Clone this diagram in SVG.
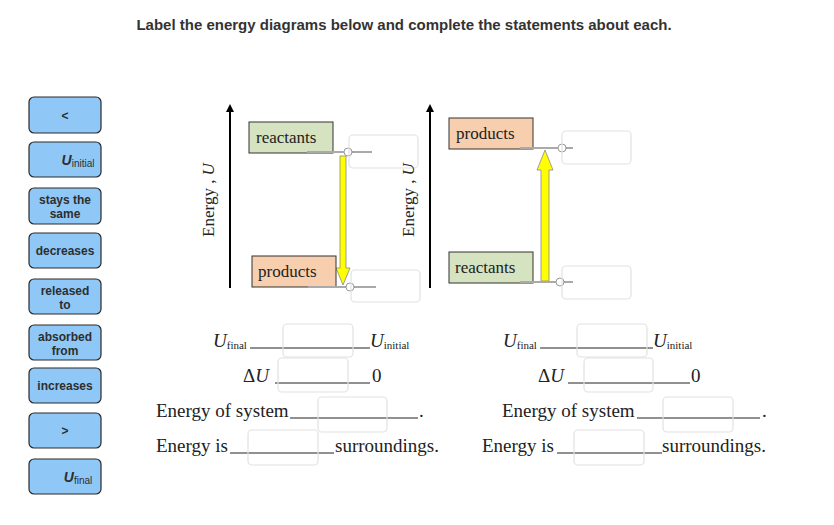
<svg xmlns="http://www.w3.org/2000/svg" width="834" height="525" viewBox="0 0 834 525">
<style>
.btn rect{fill:#8fc8f7;stroke:#2a2a2a;stroke-width:1.2}
.btn text{font-family:"Liberation Sans",Arial,sans-serif;font-weight:bold;font-size:12px;fill:#2e2e2e;text-anchor:middle}
.drop{fill:none;stroke:#e2e2e2;stroke-width:1.2}
.s{font-family:"Liberation Serif","Times New Roman",serif;font-size:19px;fill:#222}
.lbl{font-family:"Liberation Serif","Times New Roman",serif;font-size:17px;fill:#222}
.ul{stroke:#222;stroke-width:1}
.gl{stroke:#aaa;stroke-width:2}
.dl{stroke:#555;stroke-width:1}
.knob{fill:#fff;stroke:#999;stroke-width:1}
</style>
<defs>
<marker id="ah" markerUnits="userSpaceOnUse" markerWidth="8" markerHeight="10" refX="0" refY="5" orient="auto"><path d="M0,1 L8,5 L0,9 z" fill="#000"/></marker>
</defs>
<rect width="834" height="525" fill="#fff"/>
<text x="404" y="30" font-family="Liberation Sans,Arial,sans-serif" font-weight="bold" font-size="15" fill="#333" text-anchor="middle">Label the energy diagrams below and complete the statements about each.</text>

<g id="b1" class="btn"><rect x="29" y="97" width="72" height="36" rx="5"/><text x="65" y="120">&lt;</text></g>
<g id="b2" class="btn"><rect x="29" y="142" width="72" height="35" rx="5"/><text x="78" y="165"><tspan font-style="italic" font-size="14">U</tspan><tspan font-size="10" font-weight="normal" dy="2">initial</tspan></text></g>
<g id="b3" class="btn"><rect x="29" y="188" width="72" height="36" rx="5"/><text x="65" y="204">stays the</text><text x="65" y="218">same</text></g>
<g id="b4" class="btn"><rect x="29" y="233" width="72" height="35" rx="5"/><text x="65" y="255">decreases</text></g>
<g id="b5" class="btn"><rect x="29" y="279" width="72" height="35" rx="5"/><text x="65" y="295">released</text><text x="65" y="309">to</text></g>
<g id="b6" class="btn"><rect x="29" y="325" width="72" height="35" rx="5"/><text x="65" y="341">absorbed</text><text x="65" y="355">from</text></g>
<g id="b7" class="btn"><rect x="29" y="368" width="72" height="35" rx="5"/><text x="65" y="390">increases</text></g>
<g id="b8" class="btn"><rect x="29" y="413" width="72" height="35" rx="5"/><text x="65" y="435">&gt;</text></g>
<g id="b9" class="btn"><rect x="29" y="459" width="72" height="35" rx="5"/><text x="78" y="482"><tspan font-style="italic" font-size="14">U</tspan><tspan font-size="10" font-weight="normal" dy="2">final</tspan></text></g>

<g id="connectors">
<line x1="230" y1="288" x2="230" y2="112" stroke="#000" stroke-width="2" marker-end="url(#ah)"/>
<line x1="430" y1="288" x2="430" y2="112" stroke="#000" stroke-width="2" marker-end="url(#ah)"/>
<path d="M340,156 L346,156 L346,268 L350,268 L343,285 L336,268 L340,268 Z" fill="#ffff00" stroke="#888" stroke-width="0.8"/>
<path d="M541,281 L549,281 L549,170 L553,170 L545,150 L537,170 L541,170 Z" fill="#ffff00" stroke="#888" stroke-width="0.8"/>
</g>

<g id="left-diagram">
<text class="lbl" transform="translate(214,200) rotate(-90)" text-anchor="middle">Energy , <tspan font-style="italic">U</tspan></text>
<rect x="249" y="122" width="84" height="31" fill="#d5e3c0" stroke="#333"/>
<text class="lbl" x="256" y="143">reactants</text>
<line class="gl" x1="307" y1="152" x2="344" y2="152"/><circle class="knob" cx="348" cy="152" r="4"/><line class="dl" x1="352" y1="152" x2="372" y2="152"/>
<rect class="drop" x="349" y="135" width="69" height="33" rx="4"/>
<rect x="252" y="256" width="84" height="31" fill="#f8cfae" stroke="#333"/>
<text class="lbl" x="258" y="277">products</text>
<line class="gl" x1="308" y1="287" x2="346" y2="287"/><circle class="knob" cx="350" cy="287" r="4"/><line class="dl" x1="354" y1="287" x2="376" y2="287"/>
<rect class="drop" x="351" y="270" width="69" height="32" rx="4"/>
</g>

<g id="right-diagram">
<text class="lbl" transform="translate(414,200) rotate(-90)" text-anchor="middle">Energy , <tspan font-style="italic">U</tspan></text>
<rect x="449" y="118" width="84" height="31" fill="#f8cfae" stroke="#333"/>
<text class="lbl" x="456" y="139">products</text>
<line class="gl" x1="520" y1="148" x2="558" y2="148"/><circle class="knob" cx="562" cy="148" r="4"/><line class="dl" x1="566" y1="148" x2="573" y2="148"/>
<rect class="drop" x="562" y="131" width="69" height="33" rx="4"/>
<rect x="449" y="252" width="84" height="31" fill="#d5e3c0" stroke="#333"/>
<text class="lbl" x="455" y="273">reactants</text>
<line class="gl" x1="520" y1="282" x2="556" y2="282"/><circle class="knob" cx="560" cy="282" r="4"/><line class="dl" x1="564" y1="282" x2="573" y2="282"/>
<rect class="drop" x="562" y="266" width="69" height="33" rx="4"/>
</g>

<g id="left-statements">
<text class="s" x="213" y="347"><tspan font-style="italic">U</tspan><tspan font-size="11" dy="2">final</tspan></text>
<line class="ul" x1="250" y1="348" x2="370" y2="348"/>
<text class="s" x="370" y="347"><tspan font-style="italic">U</tspan><tspan font-size="11" dy="2">initial</tspan></text>
<rect class="drop" x="283" y="324" width="70" height="33" rx="4"/>
<text class="s" x="243" y="382">Δ<tspan font-style="italic">U</tspan></text>
<line class="ul" x1="275" y1="383" x2="370" y2="383"/>
<text class="s" x="372" y="382">0</text>
<rect class="drop" x="278" y="358" width="70" height="34" rx="4"/>
<text class="s" x="156" y="417">Energy of system</text>
<line class="ul" x1="290" y1="418" x2="418" y2="418"/>
<text class="s" x="419" y="417">.</text>
<rect class="drop" x="318" y="397" width="69" height="35" rx="4"/>
<text class="s" x="156" y="452">Energy is</text>
<line class="ul" x1="230" y1="453" x2="334" y2="453"/>
<text class="s" x="335" y="452">surroundings.</text>
<rect class="drop" x="248" y="430" width="70" height="35" rx="4"/>
</g>

<g id="right-statements">
<text class="s" x="503" y="347"><tspan font-style="italic">U</tspan><tspan font-size="11" dy="2">final</tspan></text>
<line class="ul" x1="540" y1="348" x2="653" y2="348"/>
<text class="s" x="653" y="347"><tspan font-style="italic">U</tspan><tspan font-size="11" dy="2">initial</tspan></text>
<rect class="drop" x="577" y="324" width="70" height="33" rx="4"/>
<text class="s" x="538" y="382">Δ<tspan font-style="italic">U</tspan></text>
<line class="ul" x1="568" y1="383" x2="690" y2="383"/>
<text class="s" x="691" y="382">0</text>
<rect class="drop" x="584" y="358" width="69" height="34" rx="4"/>
<text class="s" x="502" y="417">Energy of system</text>
<line class="ul" x1="637" y1="418" x2="760" y2="418"/>
<text class="s" x="762" y="417">.</text>
<rect class="drop" x="663" y="397" width="70" height="35" rx="4"/>
<text class="s" x="482" y="452">Energy is</text>
<line class="ul" x1="557" y1="453" x2="662" y2="453"/>
<text class="s" x="662" y="452">surroundings.</text>
<rect class="drop" x="574" y="430" width="70" height="35" rx="4"/>
</g>
</svg>
